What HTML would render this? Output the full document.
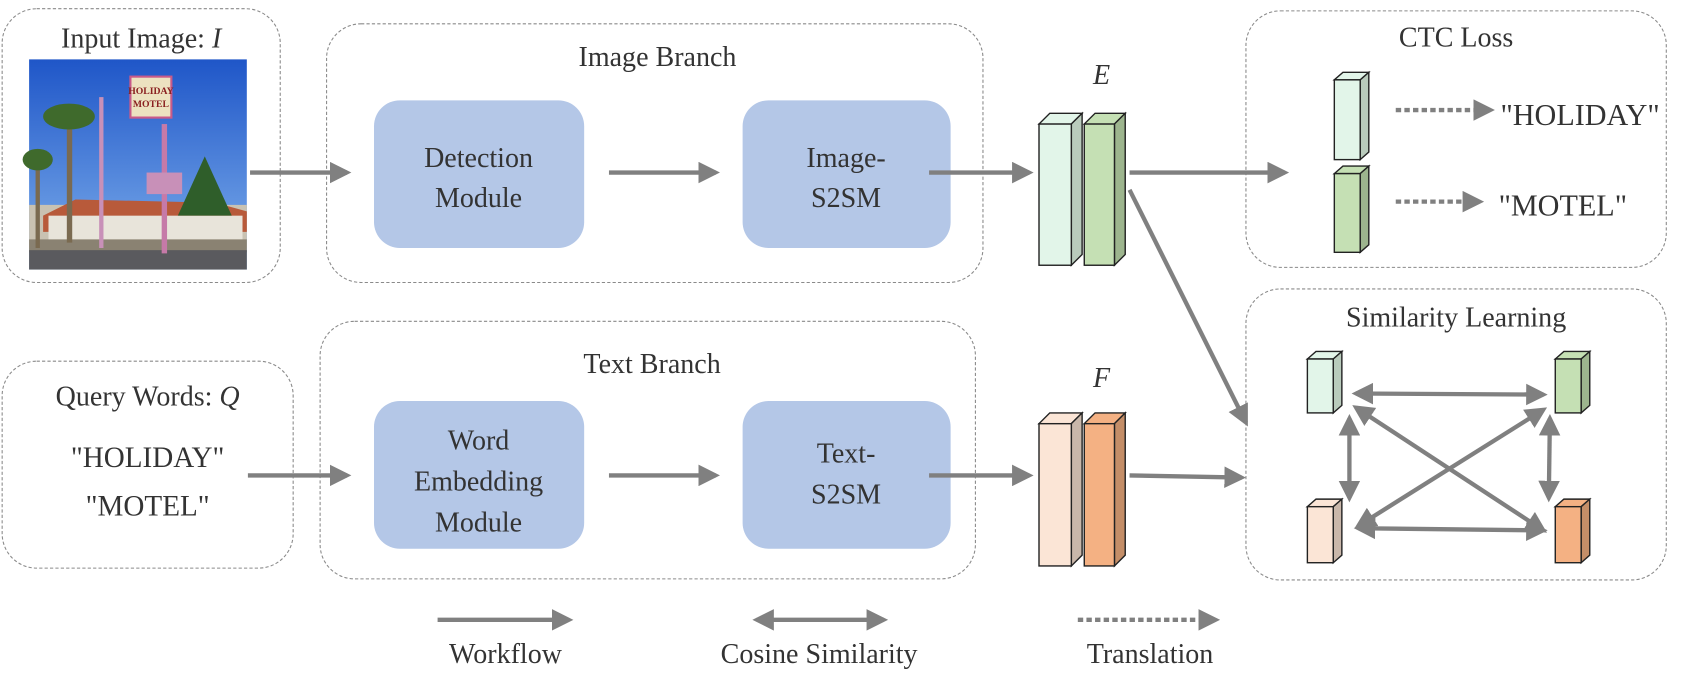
<!DOCTYPE html>
<html><head><meta charset="utf-8"><style>
html,body{margin:0;padding:0;background:#fff;}
svg{display:block;}
text{font-family:"Liberation Serif",serif;fill:#333;}
</style></head><body>
<svg width="1690" height="690" viewBox="0 0 1568 640" xmlns="http://www.w3.org/2000/svg">
<defs>
<marker id="ah" markerWidth="5" markerHeight="5" refX="4" refY="2.5" orient="auto" markerUnits="strokeWidth"><path d="M0,0 L5,2.5 L0,5 z" fill="#808080"/></marker>
<marker id="as" markerWidth="5" markerHeight="5" refX="1" refY="2.5" orient="auto" markerUnits="strokeWidth"><path d="M5,0 L0,2.5 L5,5 z" fill="#808080"/></marker>
<linearGradient id="sky" x1="0" y1="0" x2="0" y2="1"><stop offset="0" stop-color="#1f56c8"/><stop offset="1" stop-color="#7fb0ec"/></linearGradient>
</defs>
<g fill="none" stroke="#8a8a8a" stroke-width="1" stroke-dasharray="3,2">
<rect x="2" y="8" width="258" height="254" rx="32"/>
<rect x="303" y="22" width="609" height="240" rx="32"/>
<rect x="2" y="335" width="270" height="192" rx="32"/>
<rect x="297" y="298" width="608" height="239" rx="32"/>
<rect x="1156" y="10" width="390" height="238" rx="32"/>
<rect x="1156" y="268" width="390" height="270" rx="32"/>
</g>
<g font-size="26" text-anchor="middle">
<text x="131" y="44">Input Image: <tspan font-style="italic">I</tspan></text>
<text x="610" y="61">Image Branch</text>
<text x="605" y="346">Text Branch</text>
<text x="137" y="376">Query Words: <tspan font-style="italic">Q</tspan></text>
<text x="137" y="433" font-size="27">"HOLIDAY"</text>
<text x="137" y="478" font-size="27">"MOTEL"</text>
<text x="1351" y="43">CTC Loss</text>
<text x="1351" y="303">Similarity Learning</text>
<text x="1022" y="78" font-style="italic">E</text>
<text x="1022" y="359" font-style="italic">F</text>
<text x="1466" y="116" font-size="28">"HOLIDAY"</text>
<text x="1450" y="200" font-size="28">"MOTEL"</text>
<text x="469" y="615">Workflow</text>
<text x="760" y="615">Cosine Similarity</text>
<text x="1067" y="615">Translation</text>
</g>
<!-- photo -->
<g>
<rect x="27" y="55" width="202" height="195" fill="url(#sky)"/>
<rect x="27" y="190" width="202" height="40" fill="#c9c2b2"/>
<path d="M40,200 L70,185 L200,188 L229,196 L229,215 L40,215z" fill="#b85a3a"/>
<rect x="45" y="200" width="180" height="25" fill="#e8e4da"/>
<rect x="27" y="222" width="202" height="12" fill="#8a8272"/>
<rect x="27" y="232" width="202" height="18" fill="#5a5a5e"/>
<rect x="92" y="90" width="4" height="140" fill="#c890b8"/>
<rect x="120" y="70" width="40" height="40" fill="#c85a8a"/>
<rect x="122" y="72" width="36" height="36" fill="#ece2c0"/>
<rect x="150" y="115" width="5" height="120" fill="#c67aa8"/>
<rect x="136" y="160" width="33" height="20" fill="#c890b8"/>
<polygon points="190,145 215,200 165,200" fill="#2f5e2a"/>
<rect x="62" y="110" width="5" height="115" fill="#7a6a50"/>
<ellipse cx="64" cy="108" rx="24" ry="12" fill="#3f6a2c"/>
<rect x="33" y="150" width="4" height="80" fill="#7a6a50"/>
<ellipse cx="35" cy="148" rx="14" ry="10" fill="#3f6a2c"/>
<text x="140" y="87" font-size="9" font-weight="bold" text-anchor="middle" style="fill:#8a2020">HOLIDAY</text>
<text x="140" y="99" font-size="9" font-weight="bold" text-anchor="middle" style="fill:#8a2020">MOTEL</text>
</g>
<!-- blue modules -->
<g fill="#b4c7e7">
<rect x="347" y="93" width="195" height="137" rx="24"/>
<rect x="689" y="93" width="193" height="137" rx="24"/>
<rect x="347" y="372" width="195" height="137" rx="24"/>
<rect x="689" y="372" width="193" height="137" rx="24"/>
</g>
<g font-size="26" text-anchor="middle">
<text x="444" y="155">Detection</text><text x="444" y="192">Module</text>
<text x="785" y="155">Image-</text><text x="785" y="192">S2SM</text>
<text x="444" y="417">Word</text><text x="444" y="455">Embedding</text><text x="444" y="493">Module</text>
<text x="785" y="429">Text-</text><text x="785" y="467">S2SM</text>
</g>
<!-- arrows -->
<g stroke="#808080" stroke-width="4" fill="none" marker-end="url(#ah)">
<line x1="232" y1="160" x2="322" y2="160"/>
<line x1="565" y1="160" x2="664" y2="160"/>
<line x1="862" y1="160" x2="955" y2="160"/>
<line x1="230" y1="441" x2="322" y2="441"/>
<line x1="565" y1="441" x2="664" y2="441"/>
<line x1="862" y1="441" x2="955" y2="441"/>
<line x1="1048" y1="160" x2="1192" y2="160"/>
<line x1="1048" y1="176" x2="1156" y2="392"/>
<line x1="1048" y1="441" x2="1152" y2="443"/>
<line x1="406" y1="575" x2="528" y2="575"/>
</g>
<g stroke="#808080" stroke-width="4" fill="none" stroke-dasharray="5,3" marker-end="url(#ah)">
<line x1="1295" y1="102" x2="1383" y2="102"/>
<line x1="1295" y1="187" x2="1373" y2="187"/>
<line x1="1000" y1="575" x2="1128" y2="575"/>
</g>
<g stroke="#808080" stroke-width="4" fill="none" marker-end="url(#ah)" marker-start="url(#as)">
<line x1="702" y1="575" x2="820" y2="575"/>
<line x1="1258" y1="365" x2="1432" y2="366"/>
<line x1="1260" y1="490" x2="1432" y2="492"/>
<line x1="1252" y1="388" x2="1252" y2="462"/>
<line x1="1438" y1="388" x2="1437" y2="462"/>
<line x1="1258" y1="378" x2="1432" y2="492"/>
<line x1="1260" y1="488" x2="1432" y2="380"/>
</g>
<!-- cubes -->
<g stroke="#222" stroke-width="1.3">
<g><polygon points="964,115 994,115 1004,105 974,105" fill="#e2f5e9"/><polygon points="994,115 1004,105 1004,236 994,246" fill="#b9cbbc"/><rect x="964" y="115" width="30" height="131" fill="#e2f5e9"/></g>
<g><polygon points="1006,115 1034,115 1044,105 1016,105" fill="#c5e0b4"/><polygon points="1034,115 1044,105 1044,236 1034,246" fill="#9db58e"/><rect x="1006" y="115" width="28" height="131" fill="#c5e0b4"/></g>
<g><polygon points="964,393 994,393 1004,383 974,383" fill="#fbe5d6"/><polygon points="994,393 1004,383 1004,515 994,525" fill="#c9b7aa"/><rect x="964" y="393" width="30" height="132" fill="#fbe5d6"/></g>
<g><polygon points="1006,393 1034,393 1044,383 1016,383" fill="#f4b183"/><polygon points="1034,393 1044,383 1044,515 1034,525" fill="#c48e68"/><rect x="1006" y="393" width="28" height="132" fill="#f4b183"/></g>
<g><polygon points="1238,74 1262,74 1270,67 1246,67" fill="#e2f5e9"/><polygon points="1262,74 1270,67 1270,141 1262,148" fill="#b9cbbc"/><rect x="1238" y="74" width="24" height="74" fill="#e2f5e9"/></g>
<g><polygon points="1238,161 1262,161 1270,154 1246,154" fill="#c5e0b4"/><polygon points="1262,161 1270,154 1270,227 1262,234" fill="#9db58e"/><rect x="1238" y="161" width="24" height="73" fill="#c5e0b4"/></g>
<g><polygon points="1213,333 1237,333 1245,326 1221,326" fill="#e2f5e9"/><polygon points="1237,333 1245,326 1245,376 1237,383" fill="#b9cbbc"/><rect x="1213" y="333" width="24" height="50" fill="#e2f5e9"/></g>
<g><polygon points="1443,333 1467,333 1475,326 1451,326" fill="#c5e0b4"/><polygon points="1467,333 1475,326 1475,376 1467,383" fill="#9db58e"/><rect x="1443" y="333" width="24" height="50" fill="#c5e0b4"/></g>
<g><polygon points="1213,470 1237,470 1245,463 1221,463" fill="#fbe5d6"/><polygon points="1237,470 1245,463 1245,515 1237,522" fill="#c9b7aa"/><rect x="1213" y="470" width="24" height="52" fill="#fbe5d6"/></g>
<g><polygon points="1443,470 1467,470 1475,463 1451,463" fill="#f4b183"/><polygon points="1467,470 1475,463 1475,515 1467,522" fill="#c48e68"/><rect x="1443" y="470" width="24" height="52" fill="#f4b183"/></g>
</g>
</svg>
</body></html>
